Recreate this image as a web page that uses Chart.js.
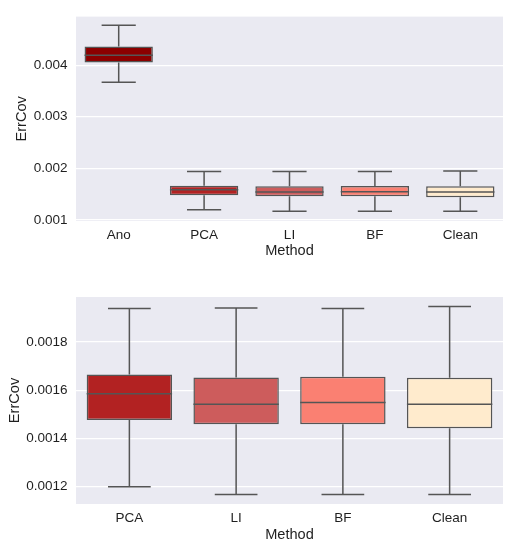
<!DOCTYPE html>
<html>
<head>
<meta charset="utf-8">
<script src="https://cdn.jsdelivr.net/npm/chart.js@4"></script>
<style>
  body { margin: 0; background: #fff; }
  .panel { position: absolute; left: 0; width: 514px; }
</style>
</head>
<body>
<div class="panel" style="top:0;height:270px"><canvas id="topChart"></canvas></div>
<div class="panel" style="top:270px;height:280px"><canvas id="bottomChart"></canvas></div>
<script>
// box plot stats
const methods = ["Ano", "PCA", "LI", "BF", "Clean"];
const lowWhisker = [0.00367, 0.00120, 0.001167, 0.001167, 0.001167];
const q1 = [0.00405, 0.001477, 0.001459, 0.001459, 0.001442];
const medians = [0.00419, 0.001586, 0.001542, 0.001549, 0.001542];
const q3 = [0.00436, 0.001665, 0.001653, 0.001656, 0.001652];
const highWhisker = [0.00477, 0.001939, 0.001941, 0.001939, 0.001948];
const boxColors = ["#8b0000", "#b22222", "#cd5c5c", "#fa8072", "#ffebcd"];

const topTicks = [0.001, 0.002, 0.003, 0.004];
const bottomTicks = [0.0012, 0.0014, 0.0016, 0.0018];

Chart.defaults.font.family = "'Liberation Sans', Arial, sans-serif";
Chart.defaults.font.size = 13.5;
Chart.defaults.color = "#1f1f1f";

const lineColor = "#555555";

const plotBackground = {
  id: "plotBackground",
  beforeDraw(chart) {
    const { ctx, chartArea } = chart;
    ctx.save();
    ctx.fillStyle = "#eaeaf2";
    ctx.fillRect(chartArea.left, chartArea.top, chartArea.width, chartArea.height);
    ctx.restore();
  },
};

// whiskers, caps and median line, placed with the y scale
const whiskers = {
  id: "whiskers",
  afterDatasetsDraw(chart, args, stats) {
    const { ctx } = chart;
    const y = chart.scales.y;
    const meta = chart.getDatasetMeta(0);
    ctx.save();
    ctx.strokeStyle = lineColor;
    ctx.lineWidth = 1.5;
    meta.data.forEach((bar, i) => {
      const x = bar.x;
      const half = bar.width / 2;
      const cap = bar.width / 4;
      const yLow = y.getPixelForValue(stats.low[i]);
      const yQ1 = y.getPixelForValue(stats.q1[i]);
      const yMed = y.getPixelForValue(stats.med[i]);
      const yQ3 = y.getPixelForValue(stats.q3[i]);
      const yHigh = y.getPixelForValue(stats.high[i]);
      ctx.beginPath();
      ctx.moveTo(x, yQ3); ctx.lineTo(x, yHigh);
      ctx.moveTo(x - cap, yHigh); ctx.lineTo(x + cap, yHigh);
      ctx.moveTo(x, yQ1); ctx.lineTo(x, yLow);
      ctx.moveTo(x - cap, yLow); ctx.lineTo(x + cap, yLow);
      ctx.moveTo(x - half, yMed); ctx.lineTo(x + half, yMed);
      ctx.stroke();
    });
    ctx.restore();
  },
};

function makeBoxChart(id, idx, yMin, yMax, ticks, digits, opts) {
  return new Chart(document.getElementById(id), {
    type: "bar",
    data: {
      labels: idx.map((i) => methods[i]),
      datasets: [
        {
          data: idx.map((i) => [q1[i], q3[i]]),
          backgroundColor: idx.map((i) => boxColors[i]),
          borderColor: lineColor,
          borderWidth: 1.5,
          borderSkipped: false,
          barPercentage: 0.8,
          categoryPercentage: 1,
        },
      ],
    },
    options: {
      responsive: true,
      maintainAspectRatio: false,
      animation: false,
      layout: { padding: { top: opts.top, right: 11, left: 0, bottom: 0 } },
      plugins: {
        legend: { display: false },
        tooltip: { enabled: false },
        whiskers: {
          low: idx.map((i) => lowWhisker[i]),
          q1: idx.map((i) => q1[i]),
          med: idx.map((i) => medians[i]),
          q3: idx.map((i) => q3[i]),
          high: idx.map((i) => highWhisker[i]),
        },
      },
      scales: {
        x: {
          grid: { display: false, drawTicks: false },
          border: { display: false },
          ticks: { padding: 6 },
          title: {
            display: true,
            text: "Method",
            font: { size: 14.6 },
            padding: { top: 0, bottom: opts.xTitlePad },
          },
          afterFit: (s) => { s.height = opts.xHeight; },
        },
        y: {
          min: yMin,
          max: yMax,
          grid: { color: "#ffffff", lineWidth: 1.2, drawTicks: false },
          border: { display: false },
          ticks: {
            padding: 8.5,
            callback: (v) => Number(v).toFixed(digits),
          },
          afterBuildTicks: (s) => { s.ticks = ticks.map((v) => ({ value: v })); },
          title: {
            display: true,
            text: "ErrCov",
            font: { size: 14.6 },
            padding: { top: opts.yTitlePad, bottom: 0 },
          },
          afterFit: (s) => { s.width = 76; },
        },
      },
    },
    plugins: [plotBackground, whiskers],
  });
}

makeBoxChart("topChart", [0, 1, 2, 3, 4], 0.00098, 0.00494, topTicks, 3,
  { top: 14, xHeight: 49, xTitlePad: 10.5, yTitlePad: 13 });
makeBoxChart("bottomChart", [1, 2, 3, 4], 0.001128, 0.001987, bottomTicks, 4,
  { top: 27, xHeight: 46, xTitlePad: 6.3, yTitlePad: 6.3 });
</script>
</body>
</html>
